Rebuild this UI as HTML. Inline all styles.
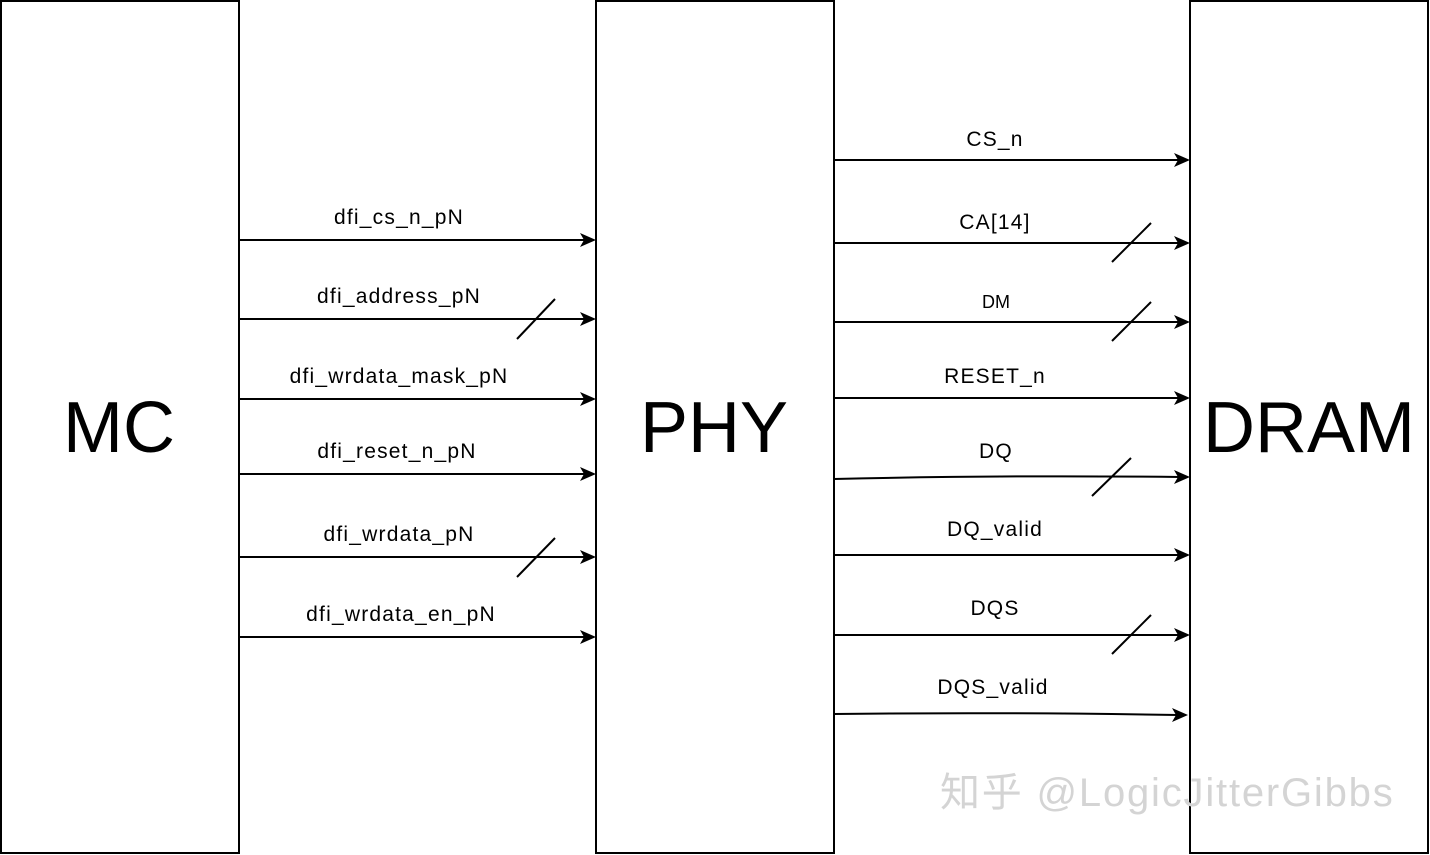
<!DOCTYPE html>
<html><head><meta charset="utf-8"><style>
html,body{margin:0;padding:0;background:#fff;}
svg{display:block;}
text{font-family:"Liberation Sans",Arial,sans-serif;fill:#000;}
</style></head><body>
<svg width="1430" height="855" viewBox="0 0 1430 855" xmlns="http://www.w3.org/2000/svg">
<g fill="none" stroke="#000" stroke-width="2">
<rect x="1" y="1" width="238" height="852"/>
<rect x="596" y="1" width="238" height="852"/>
<rect x="1190" y="1" width="238" height="852"/>
</g>
<text x="119" y="452" font-size="72" text-anchor="middle">MC</text>
<text x="714" y="452" font-size="72" text-anchor="middle">PHY</text>
<text x="1309" y="452" font-size="72" text-anchor="middle">DRAM</text>
<g stroke="#000" stroke-width="2" fill="none">
<line x1="239" y1="240" x2="585" y2="240"/>
<line x1="239" y1="319" x2="585" y2="319"/>
<line x1="239" y1="399" x2="585" y2="399"/>
<line x1="239" y1="474" x2="585" y2="474"/>
<line x1="239" y1="557" x2="585" y2="557"/>
<line x1="239" y1="637" x2="585" y2="637"/>
<line x1="834" y1="160" x2="1180" y2="160"/>
<line x1="834" y1="243" x2="1180" y2="243"/>
<line x1="834" y1="322" x2="1180" y2="322"/>
<line x1="834" y1="398" x2="1180" y2="398"/>
<path d="M834,479 Q1000,475 1180,477"/>
<line x1="834" y1="555" x2="1180" y2="555"/>
<line x1="834" y1="635" x2="1180" y2="635"/>
<path d="M834,714 Q1000,712 1178,715"/>
<line x1="517" y1="339" x2="555" y2="299"/>
<line x1="517" y1="577" x2="555" y2="538"/>
<line x1="1112" y1="262" x2="1151" y2="223"/>
<line x1="1112" y1="341" x2="1151" y2="302"/>
<line x1="1092" y1="496" x2="1131" y2="458"/>
<line x1="1112" y1="654" x2="1151" y2="615"/>
</g>
<g fill="#000">
<path d="M596,240 l-16,-7 l4,7 l-4,7 z"/>
<path d="M596,319 l-16,-7 l4,7 l-4,7 z"/>
<path d="M596,399 l-16,-7 l4,7 l-4,7 z"/>
<path d="M596,474 l-16,-7 l4,7 l-4,7 z"/>
<path d="M596,557 l-16,-7 l4,7 l-4,7 z"/>
<path d="M596,637 l-16,-7 l4,7 l-4,7 z"/>
<path d="M1190,160 l-16,-7 l4,7 l-4,7 z"/>
<path d="M1190,243 l-16,-7 l4,7 l-4,7 z"/>
<path d="M1190,322 l-16,-7 l4,7 l-4,7 z"/>
<path d="M1190,398 l-16,-7 l4,7 l-4,7 z"/>
<path d="M1190,477 l-16,-7 l4,7 l-4,7 z"/>
<path d="M1190,555 l-16,-7 l4,7 l-4,7 z"/>
<path d="M1190,635 l-16,-7 l4,7 l-4,7 z"/>
<path d="M1188,715 l-16,-7 l4,7 l-4,7 z"/>
</g>
<g font-size="21" text-anchor="middle" letter-spacing="1.2">
<text x="399" y="224">dfi_cs_n_pN</text>
<text x="399" y="303">dfi_address_pN</text>
<text x="399" y="383">dfi_wrdata_mask_pN</text>
<text x="397" y="458">dfi_reset_n_pN</text>
<text x="399" y="541">dfi_wrdata_pN</text>
<text x="401" y="621">dfi_wrdata_en_pN</text>
<text x="995" y="146">CS_n</text>
<text x="995" y="229">CA[14]</text>
<text x="996" y="308" font-size="18" letter-spacing="0">DM</text>
<text x="995" y="383">RESET_n</text>
<text x="996" y="458">DQ</text>
<text x="995" y="536">DQ_valid</text>
<text x="995" y="615">DQS</text>
<text x="993" y="694">DQS_valid</text>
</g>
<text x="940" y="806" font-size="40" letter-spacing="1.8" style="fill:#d4d4d4;font-family:'Liberation Sans','Noto Sans CJK SC',sans-serif">知乎 @LogicJitterGibbs</text>
</svg>
</body></html>
